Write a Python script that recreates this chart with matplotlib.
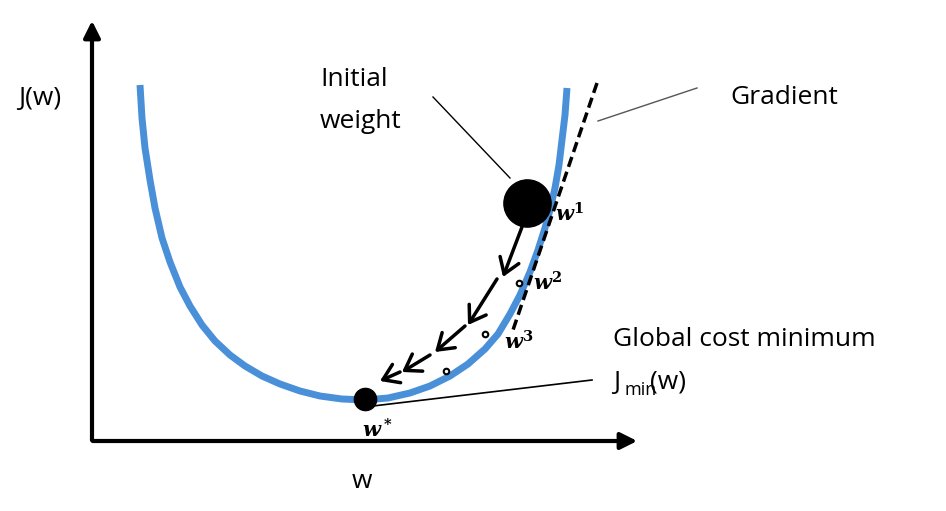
import matplotlib.pyplot as plt
from matplotlib.patches import FancyArrowPatch

plt.rcParams['mathtext.fontset'] = 'custom'
plt.rcParams['mathtext.it'] = 'DejaVu Serif:bold:italic'
plt.rcParams['mathtext.rm'] = 'DejaVu Serif:bold'

# curve points (pixel coords, y down)
curve_x = [140, 142, 145, 150, 155, 162, 170, 180, 190, 202, 215, 230, 245, 262, 280, 300, 320, 342, 365,
           388, 410, 430, 450, 468, 485, 498, 510, 520, 530, 538, 545, 550, 555, 559, 562, 565, 567]
curve_y = [85, 118, 148, 180, 208, 238, 262, 287, 306, 325, 341, 355, 366, 376, 384, 391, 396, 399, 400,
           398, 393, 386, 376, 364, 349, 334, 314, 295, 272, 250, 228, 210, 188, 165, 140, 115, 88]

steps_from = [(522, 227), (497, 279), (465, 326), (430, 355), (400, 372)]
steps_to = [(503, 277), (468, 325), (435, 352), (402, 372), (380, 381)]
small_dots = [(519, 283), (485, 334), (446, 371)]

fig = plt.figure(figsize=(9.46, 5.11), dpi=100)
ax = fig.add_axes([0, 0, 1, 1])
ax.set_xlim(0, 946)
ax.set_ylim(511, 0)
ax.axis('off')

# axes arrows
ax.annotate('', xy=(92, 18), xytext=(92, 443),
            arrowprops=dict(arrowstyle='-|>', lw=3, color='black', mutation_scale=25))
ax.annotate('', xy=(640, 441), xytext=(90, 441),
            arrowprops=dict(arrowstyle='-|>', lw=3, color='black', mutation_scale=25))

ax.plot(curve_x, curve_y, color='#4a90d9', lw=5, solid_capstyle='butt', solid_joinstyle='round', zorder=2)

# tangent
ax.plot([597, 513], [83, 330], color='black', lw=2.5, ls=(0, (3, 1.5)), zorder=3)

for (x0, y0), (x1, y1) in zip(steps_from, steps_to):
    ax.add_patch(FancyArrowPatch((x0, y0), (x1, y1), arrowstyle='->,head_length=0.6,head_width=0.4',
                                 mutation_scale=18, lw=2.5, color='black', zorder=4,
                                 shrinkA=0, shrinkB=0))

for x, y in small_dots:
    ax.plot(x, y, 'o', ms=4, mfc='white', mec='black', mew=1.5, zorder=5)

ax.plot(527, 203, 'o', ms=34, color='black', zorder=5)
ax.plot(365, 399, 'o', ms=16, color='black', zorder=5)

# pointer lines
ax.plot([433, 510], [97, 178], color='black', lw=1)
ax.plot([598, 697], [121, 88], color='#555555', lw=1)
ax.plot([373, 592], [406, 380], color='black', lw=1.2)

fs = 19
sans = 'Open Sans'
ax.text(18, 98, 'J(w)', fontsize=fs, va='center', family=sans)
ax.text(362, 482, 'w', fontsize=fs, ha='center', va='center', family=sans)
ax.text(320, 80, 'Initial', fontsize=fs, va='center', family=sans)
ax.text(320, 122, 'weight', fontsize=fs, va='center', family=sans)
ax.text(730, 97, 'Gradient', fontsize=fs, va='center', family=sans)
ax.text(613, 340, 'Global cost minimum', fontsize=fs, va='center', family=sans)
ax.text(613, 382, 'J', fontsize=fs, va='center', family=sans)
ax.text(624, 390, 'min', fontsize=13, va='center', family=sans)
ax.text(650, 382, '(w)', fontsize=fs, va='center', family=sans)

mfs = 15
ax.text(555, 214, r'$w^1$', fontsize=mfs, va='center')
ax.text(533, 283, r'$w^2$', fontsize=mfs, va='center')
ax.text(504, 342, r'$w^3$', fontsize=mfs, va='center')
ax.text(362, 430, r'$w^*$', fontsize=mfs, va='center')

fig.savefig('out.png', dpi=100)
